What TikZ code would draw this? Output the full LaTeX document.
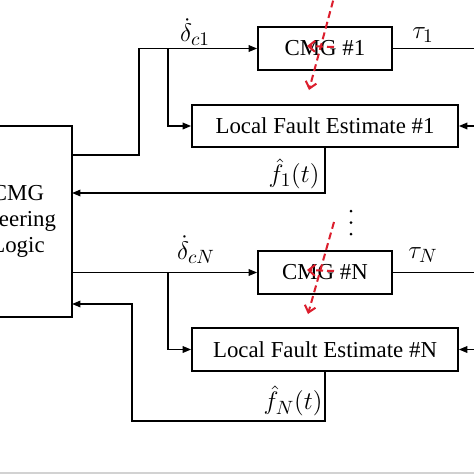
\documentclass[tikz,border=0pt]{standalone}
\usepackage{fontspec}
\setmainfont{Liberation Serif}
\usepackage{xcolor}
\usetikzlibrary{arrows.meta,calc}
\definecolor{faultred}{RGB}{220,30,45}
\tikzset{
  blockbox/.style={
    draw,
    line width=0.95pt,
    inner sep=0pt,
    font=\fontsize{13}{17}\selectfont
  },
  cmg block/.style={
    blockbox,
    minimum width=2.68cm,
    minimum height=0.86cm
  },
  est block/.style={
    blockbox,
    minimum width=5.32cm,
    minimum height=0.85cm
  },
  wire/.style={
    line width=0.95pt
  },
  sig/.style={
    wire,
    -{Triangle[length=0.17cm,width=0.13cm]}
  },
  fault/.style={
    draw=faultred,
    line width=1.15pt,
    dash pattern=on 0.14cm off 0.08cm,
    -{Straight Barb[length=0.13cm,width=0.22cm]}
  },
  lbl/.style={
    font=\fontsize{15.5}{17}\selectfont
  }
}
\begin{document}
\begin{tikzpicture}[x=0.02cm,y=-0.02cm]
  \clip (0,0) rectangle (474,474);
  \fill[white] (0,0) rectangle (474,474);
  \fill[gray!35] (0,472) rectangle (474,474);

  % blocks
  \node[blockbox, minimum width=2.16cm, minimum height=3.82cm, align=center,
        font=\fontsize{13}{15}\selectfont] (logic) at (18,221.5) {CMG\\Steering\\Logic};
  \node[cmg block] (cmgOne) at (325,48.5) {CMG \#1};
  \node[est block] (lfeOne) at (325,126) {Local Fault Estimate \#1};
  \node[cmg block] (cmgN) at (325,272.5) {CMG \#N};
  \node[est block] (lfeN) at (325,349.5) {Local Fault Estimate \#N};

  % bend points
  \coordinate (outOne) at (72,155);
  \coordinate (riseOne) at (139,155);
  \coordinate (splitOne) at (168,48.5);
  \coordinate (inOne) at (72,193);
  \coordinate (tauOne) at (480,48.5);
  \coordinate (measOne) at (480,126);
  \coordinate (outN) at (72,272.5);
  \coordinate (splitN) at (168,272.5);
  \coordinate (backN) at (132,421);
  \coordinate (inN) at (72,304);
  \coordinate (tauN) at (480,272.5);
  \coordinate (measN) at (480,349.5);

  % CMG 1 channel
  \draw[sig] (outOne) -- (riseOne) |- (cmgOne.west);
  \draw[sig] (splitOne) |- (lfeOne.west);
  \draw[sig] (lfeOne.south) |- (inOne);
  \draw[wire] (cmgOne.east) -- (tauOne);
  \draw[sig] (measOne) -- (lfeOne.east);

  % CMG N channel
  \draw[sig] (outN) -- (cmgN.west);
  \draw[sig] (splitN) |- (lfeN.west);
  \draw[sig] (lfeN.south) |- (backN) |- (inN);
  \draw[wire] (cmgN.east) -- (tauN);
  \draw[sig] (measN) -- (lfeN.east);

  % labels
  \node[lbl] (delOne) at (195,32) {$\dot{\delta}_{c1}$};
  \node[lbl] (tauOneLbl) at (423,35) {$\tau_1$};
  \node[lbl] (fOne) at (294,174) {$\hat{f}_1(t)$};
  \node[lbl] (delN) at (196,250) {$\dot{\delta}_{cN}$};
  \node[lbl] (tauNLbl) at (423,255) {$\tau_N$};
  \node[lbl] (fN) at (293,401) {$\hat{f}_N(t)$};

  % dots
  \foreach \yy in {211,222.5,234}
    \fill (351,\yy) circle (1.5);

  % faults
  \draw[fault] (336,-10) -- (309,90);
  \draw[fault] (334,47) -- (307,46);
  \draw[fault] (334,222) -- (308,314);
  \draw[fault] (334,271) -- (307,270);
\end{tikzpicture}
\end{document}
